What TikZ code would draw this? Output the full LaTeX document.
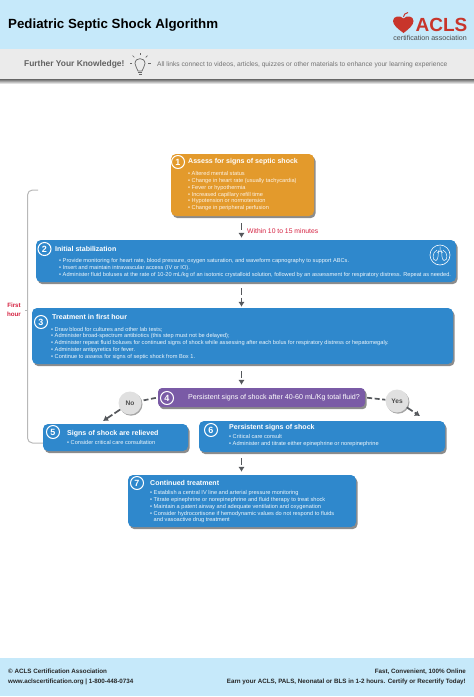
\documentclass[tikz,border=0pt]{standalone}
\usepackage{fontspec}
\setmainfont{Liberation Sans}
\usetikzlibrary{arrows.meta,calc,positioning,shadows}
\definecolor{headerblue}{HTML}{C6E9FA}
\definecolor{bandgray}{HTML}{EBEBEB}
\definecolor{stepblue}{HTML}{2F88CC}
\definecolor{steporange}{HTML}{E39A2C}
\definecolor{steppurple}{HTML}{7A5BA6}
\definecolor{aclsred}{HTML}{C8352B}
\definecolor{alertred}{HTML}{D4203F}
\definecolor{darkgray}{HTML}{55585C}
\newcommand{\itemdot}{\textbullet\ }
\tikzset{
  stepshadow/.style={drop shadow={shadow xshift=1.6pt, shadow yshift=-2.2pt, fill=black, opacity=0.45}},
  bluebox/.style={fill=stepblue, rounded corners=5pt, stepshadow, inner sep=0pt},
  orangebox/.style={fill=steporange, rounded corners=5pt, stepshadow, inner sep=0pt},
  purplebox/.style={fill=steppurple, rounded corners=4pt, stepshadow, inner sep=0pt},
  badge/.style={circle, draw=white, line width=1pt, text=white, font=\bfseries\fontsize{9}{9}\selectfont, minimum size=13pt, inner sep=0pt},
  steptitle/.style={anchor=west, text=white, inner sep=0pt, font=\bfseries\fontsize{7.05}{8}\selectfont},
  steplist/.style={anchor=north west, text=white!92!stepblue, inner sep=0pt, align=left, font=\fontsize{5.65}{6.8}\selectfont},
  choice/.style={circle, fill=black!12, drop shadow={shadow xshift=1pt, shadow yshift=-1.2pt, fill=black, opacity=0.35}, text=black!70, minimum size=23pt, inner sep=0pt, font=\bfseries\fontsize{6.6}{8}\selectfont},
  flowarrow/.style={darkgray, dash pattern=on 7pt off 2.5pt, -{Latex[length=5pt,width=6.5pt]}, line width=1.7pt},
  flowline/.style={darkgray, dash pattern=on 5pt off 2.5pt, line width=1.7pt},
  alert/.style={text=alertred, inner sep=0pt, font=\fontsize{6.8}{8}\selectfont},
  foottext/.style={inner sep=0pt, text=black!85, font=\bfseries\fontsize{6.25}{10}\selectfont}
}
\begin{document}
\begin{tikzpicture}[x=1pt,y=-1pt]
  \useasboundingbox (0,0) rectangle (474,697);
  % header and footer bands
  \fill[headerblue] (0,0) rectangle (474,49);
  \fill[bandgray] (0,49) rectangle (474,79);
  \shade[top color=black!60, bottom color=white] (0,79) rectangle (474,84);
  \fill[headerblue] (0,658) rectangle (474,696);
  \node[anchor=west, inner sep=0pt, font=\bfseries\fontsize{13.3}{15}\selectfont] (title) at (8,25) {Pediatric Septic Shock Algorithm};
  \node[anchor=west, inner sep=0pt, text=black!62, font=\bfseries\fontsize{8.4}{10}\selectfont] (further) at (24,64.5) {Further Your Knowledge!};
  \node[anchor=west, inner sep=0pt, text=black!55, font=\fontsize{6.65}{8}\selectfont] (links) at (157,64.5) {All links connect to videos, articles, quizzes or other materials to enhance your learning experience};
  % light bulb
  \draw[black!60, line width=0.7pt] (138,71) .. controls (137.5,68) and (135,67) .. (135,63.5) .. controls (135,57) and (145,57) .. (145,63.5) .. controls (145,67) and (142.5,68) .. (142,71) -- cycle;
  \draw[black!60, line width=0.8pt] (138,72.8)--(142,72.8) (138.5,74.6)--(141.5,74.6);
  \foreach \a in {-180,-135,-90,-45,0}{
    \draw[black!60, line width=0.7pt] (140,63)+(\a:8) -- +(\a:10.5);
  }
  % logo
  \fill[aclsred] (403.5,33) .. controls (398,29) and (393,25) .. (393,21) .. controls (393,16) and (400,15) .. (403.5,18.5) .. controls (407,15) and (413.5,16) .. (413.5,21) .. controls (413.5,25) and (409,29) .. (403.5,33) -- cycle;
  \draw[aclsred, line width=1pt] (403.5,17) .. controls (403.5,15) and (405,13) .. (408,12.5);
  \node[anchor=east, inner sep=0pt, text=aclsred, font=\bfseries\fontsize{19}{22}\selectfont] (acls) at (467.5,25) {ACLS};
  \node[anchor=east, inner sep=0pt, text=black!70, font=\fontsize{7.1}{8}\selectfont] (assoc) at (467,38) {certification association};
  % first hour bracket
  \coordinate (brackettop) at (38,190);
  \coordinate (bracketend) at (43,443);
  \draw[black!28, line width=1pt, rounded corners=5pt] (brackettop) -- (27.5,190) -- (27.5,443) -- (bracketend);
  \draw[black!28, line width=0.8pt] (27.5,310) -- (25,310);
  \node[alert, align=center, font=\bfseries\fontsize{6.2}{8.6}\selectfont] (firsthour) at (14,309.5) {First\\hour};
  % step boxes
  \node[orangebox, minimum width=143pt, minimum height=62pt] (box1) at (242.5,185) {};
  \node[bluebox, minimum width=420pt, minimum height=42pt] (box2) at (246,261) {};
  \node[bluebox, minimum width=421pt, minimum height=56pt] (box3) at (242.5,336) {};
  \node[purplebox, minimum width=207pt, minimum height=19pt] (box4) at (261.5,397.5) {};
  \node[bluebox, minimum width=145pt, minimum height=27pt] (box5) at (115.5,437.5) {};
  \node[bluebox, minimum width=246pt, minimum height=31pt] (box6) at (322,436.5) {};
  \node[bluebox, minimum width=228pt, minimum height=52pt] (box7) at (242,501) {};
  % numbers
  \foreach \n/\x/\y in {1/178/162,2/44.5/249,3/41/322,4/167/398,5/53/432,6/211/430,7/137/483}{
    \node[badge] (num\n) at (\x,\y) {\n};
  }
  % step texts
  \node[steptitle] (title1) at (188,162) {Assess for signs of septic shock};
  \node[steplist, text=white!88!steporange] (list1) at (188,171.5) {\itemdot Altered mental status\\\itemdot Change in heart rate (usually tachycardia)\\\itemdot Fever or hypothermia\\\itemdot Increased capillary refill time\\\itemdot Hypotension or normotension\\\itemdot Change in peripheral perfusion};
  \node[steptitle] (title2) at (55,248.5) {Initial stabilization};
  \node[steplist] (list2) at (59,258.3) {\itemdot Provide monitoring for heart rate, blood pressure, oxygen saturation, and waveform capnography to support ABCs.\\\itemdot Insert and maintain intravascular access (IV or IO).\\\itemdot Administer fluid boluses at the rate of 10-20 mL/kg of an isotonic crystalloid solution, followed by an assessment for respiratory distress. Repeat as needed.};
  \node[steptitle] (title3) at (52,317) {Treatment in first hour};
  \node[steplist] (list3) at (51,326.8) {\itemdot Draw blood for cultures and other lab tests;\\\itemdot Administer broad-spectrum antibiotics (this step must not be delayed);\\\itemdot Administer repeat fluid boluses for continued signs of shock while assessing after each bolus for respiratory distress or hepatomegaly.\\\itemdot Administer antipyretics for fever.\\\itemdot Continue to assess for signs of septic shock from Box 1.};
  \node[anchor=west, inner sep=0pt, text=white, font=\fontsize{7.1}{8}\selectfont] (title4) at (188,398) {Persistent signs of shock after 40-60 mL/Kg total fluid?};
  \node[steptitle] (title5) at (67,434) {Signs of shock are relieved};
  \node[steplist] (list5) at (67,440.3) {\itemdot Consider critical care consultation};
  \node[steptitle] (title6) at (229,428) {Persistent signs of shock};
  \node[steplist] (list6) at (229,434.3) {\itemdot Critical care consult\\\itemdot Administer and titrate either epinephrine or norepinephrine};
  \node[steptitle] (title7) at (150,483) {Continued treatment};
  \node[steplist] (list7) at (150,490.3) {\itemdot Establish a central IV line and arterial pressure monitoring\\\itemdot Titrate epinephrine or norepinephrine and fluid therapy to treat shock\\\itemdot Maintain a patent airway and adequate ventilation and oxygenation\\\itemdot Consider hydrocortisone if hemodynamic values do not respond to fluids\\\phantom{\itemdot}and vasoactive drug treatment};
  % lungs icon
  \node[circle, draw=white, line width=0.6pt, minimum size=20pt, inner sep=0pt] (lungs) at (440,255) {};
  \draw[white, line width=0.5pt] (437,250) .. controls (432,252) and (432,261) .. (436,260.5) .. controls (438.5,260) and (438,254) .. (438.5,250.5);
  \draw[white, line width=0.5pt] (443,250) .. controls (448,252) and (448,261) .. (444,260.5) .. controls (441.5,260) and (442,254) .. (441.5,250.5);
  \draw[white, line width=0.5pt] (440,246.5) -- (440,251) (437,252.5) -- (440,251) -- (443,252.5);
  % connectors
  \coordinate (trunk) at (241.5,0);
  \draw[flowarrow, shorten <=7pt, shorten >=2pt] (trunk |- box1.south) -- (trunk |- box2.north);
  \draw[flowarrow, shorten <=6pt, shorten >=1pt] (trunk |- box2.south) -- (trunk |- box3.north);
  \draw[flowarrow, shorten <=7pt, shorten >=3pt] (trunk |- box3.south) -- (trunk |- box4.north);
  \draw[flowarrow, shorten <=6pt, shorten >=3pt] (trunk |- box6.south) -- (trunk |- box7.north);
  \node[alert, anchor=west] (within) at (247,231) {Within 10 to 15 minutes};
  % decision
  \node[choice] (no) at (130,403) {No};
  \node[choice] (yes) at (397,401) {Yes};
  \coordinate (nostop) at (103,421);
  \coordinate (yesstop) at (420,416);
  \draw[flowline, shorten <=2pt] (box4.west) -- (no);
  \draw[flowline, shorten <=2pt] (box4.east) -- (yes);
  \draw[flowarrow] (no) -- (nostop);
  \draw[flowarrow] (yes) -- (yesstop);
  % footer text
  \node[foottext, anchor=north west, align=left] (footleft) at (8,668.5) {© ACLS Certification Association\\www.aclscertification.org | 1-800-448-0734};
  \node[foottext, anchor=north east, align=right] (footright) at (466,668.5) {Fast, Convenient, 100\% Online\\Earn your ACLS, PALS, Neonatal or BLS in 1-2 hours. Certify or Recertify Today!};
\end{tikzpicture}
\end{document}
